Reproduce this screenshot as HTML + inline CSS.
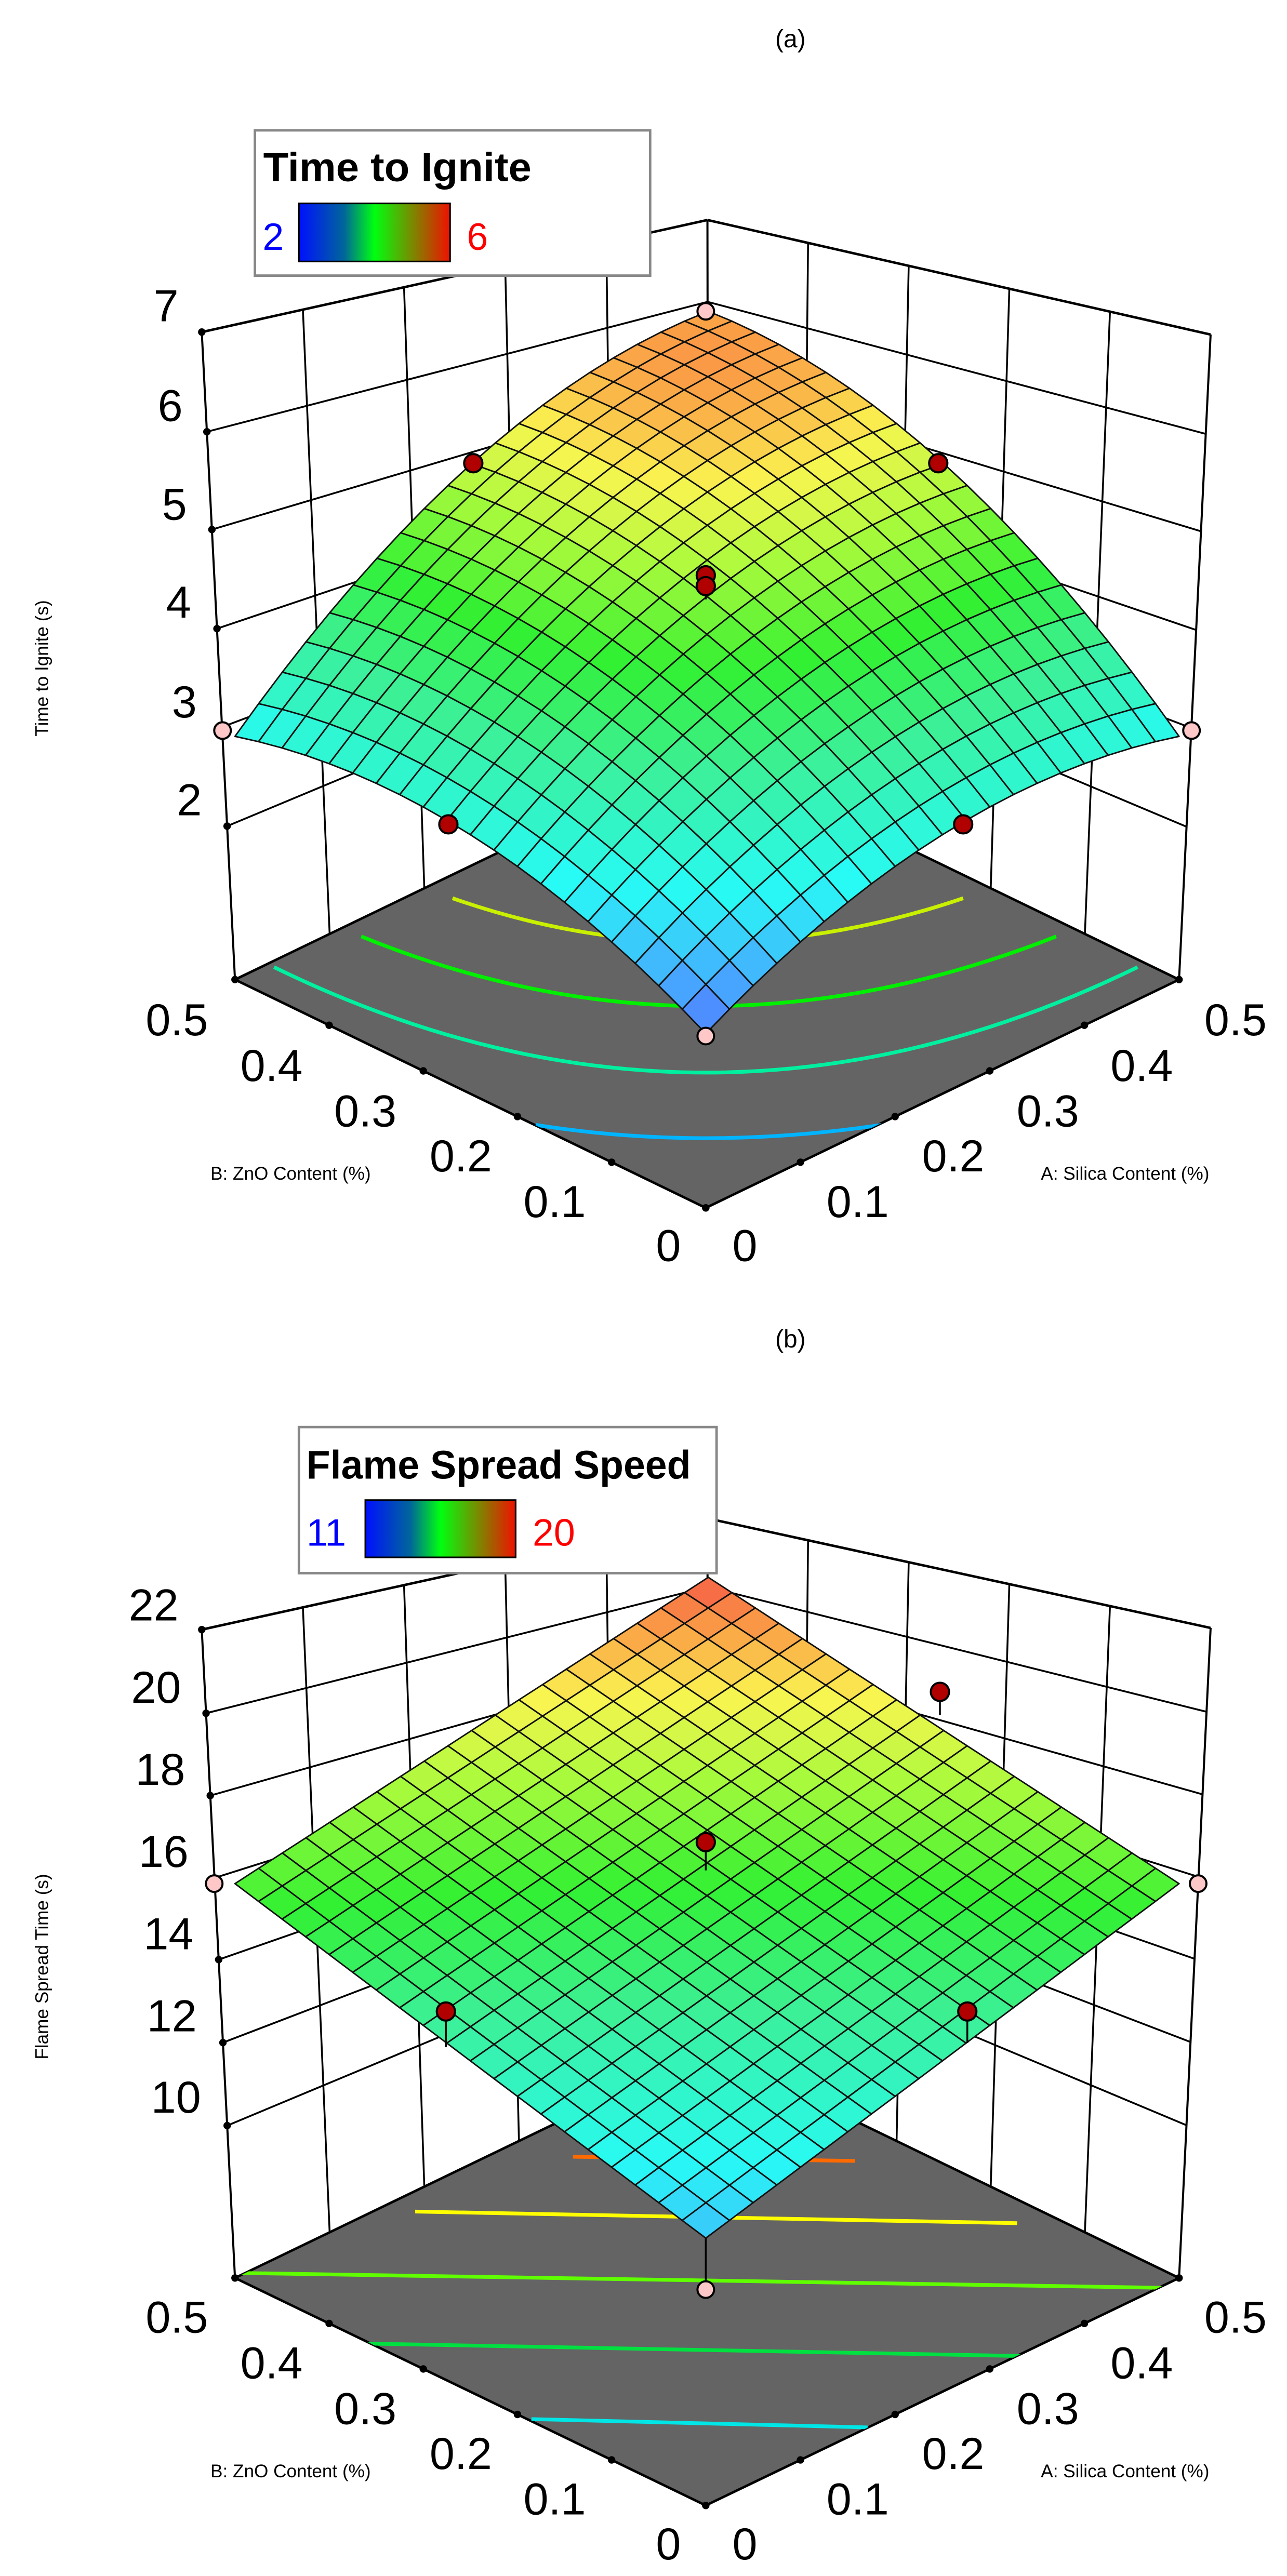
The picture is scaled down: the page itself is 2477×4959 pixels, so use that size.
<!DOCTYPE html>
<html><head><meta charset="utf-8">
<style>
html,body{margin:0;padding:0;background:#fff;}
svg{display:block;}
text{font-family:"Liberation Sans",sans-serif;}
.z{font-size:54px;text-anchor:middle;}
.t{font-size:22px;text-anchor:middle;}
</style></head>
<body>
<svg id="s" width="2477" height="4959" viewBox="0 0 1550 3103" preserveAspectRatio="none" xmlns="http://www.w3.org/2000/svg">
<defs>
<linearGradient id="lg" x1="0" x2="1" y1="0" y2="0">
<stop offset="0" stop-color="#0010ff"/><stop offset="0.3" stop-color="#00669a"/>
<stop offset="0.5" stop-color="#00ff10"/><stop offset="0.75" stop-color="#7a8a00"/>
<stop offset="1" stop-color="#f01000"/></linearGradient>
<clipPath id="c1"><polygon points="283,1180 850,1455 1420,1180 853,905"/></clipPath>
<clipPath id="c2"><polygon points="283,1193 850,1467 1420,1193 853,918"/></clipPath>
</defs>
<g id="g1"></g>
<g id="g2" transform="translate(0,1551)"></g>
<g>
<text x="952" y="57" font-size="30" text-anchor="middle">(a)</text>
<text transform="translate(58,805) rotate(-90)" class="t">Time to Ignite (s)</text>
<text x="200" y="387" class="z">7</text><text x="205" y="507" class="z">6</text>
<text x="210" y="626" class="z">5</text><text x="215" y="744" class="z">4</text>
<text x="222" y="864" class="z">3</text><text x="228" y="982" class="z">2</text>
<text x="213" y="1247" class="z">0.5</text><text x="327" y="1302" class="z">0.4</text>
<text x="440" y="1357" class="z">0.3</text><text x="555" y="1411" class="z">0.2</text>
<text x="668" y="1466" class="z">0.1</text><text x="805" y="1519" class="z">0</text>
<text x="897" y="1519" class="z">0</text><text x="1033" y="1466" class="z">0.1</text>
<text x="1148" y="1411" class="z">0.2</text><text x="1262" y="1357" class="z">0.3</text>
<text x="1375" y="1302" class="z">0.4</text><text x="1488" y="1247" class="z">0.5</text>
<text x="350" y="1421" class="t">B: ZnO Content (%)</text>
<text x="1355" y="1421" class="t">A: Silica Content (%)</text>
<rect x="307" y="157" width="476" height="175" fill="#fff" stroke="#888" stroke-width="3"/>
<text x="317" y="218" font-size="49" font-weight="bold" textLength="323" lengthAdjust="spacingAndGlyphs">Time to Ignite</text>
<rect x="360" y="245" width="182" height="70" fill="url(#lg)" stroke="#000" stroke-width="2"/>
<text x="329" y="301" font-size="46" fill="#0000ff" text-anchor="middle">2</text>
<text x="575" y="301" font-size="46" fill="#ff0000" text-anchor="middle">6</text>
</g>
<g transform="translate(0,1551)">
<text x="952" y="72" font-size="30" text-anchor="middle">(b)</text>
<text transform="translate(58,818) rotate(-90)" class="t">Flame Spread Time (s)</text>
<text x="185" y="401" class="z">22</text><text x="188" y="500" class="z">20</text>
<text x="193" y="599" class="z">18</text><text x="197" y="698" class="z">16</text>
<text x="203" y="797" class="z">14</text><text x="207" y="896" class="z">12</text>
<text x="212" y="994" class="z">10</text>
<text x="213" y="1259" class="z">0.5</text><text x="327" y="1314" class="z">0.4</text>
<text x="440" y="1369" class="z">0.3</text><text x="555" y="1423" class="z">0.2</text>
<text x="668" y="1478" class="z">0.1</text><text x="805" y="1532" class="z">0</text>
<text x="897" y="1532" class="z">0</text><text x="1033" y="1478" class="z">0.1</text>
<text x="1148" y="1423" class="z">0.2</text><text x="1262" y="1369" class="z">0.3</text>
<text x="1375" y="1314" class="z">0.4</text><text x="1488" y="1259" class="z">0.5</text>
<text x="350" y="1433" class="t">B: ZnO Content (%)</text>
<text x="1355" y="1433" class="t">A: Silica Content (%)</text>
<rect x="360" y="168" width="503" height="176" fill="#fff" stroke="#888" stroke-width="3"/>
<text x="369" y="230" font-size="48" font-weight="bold" textLength="463" lengthAdjust="spacingAndGlyphs">Flame Spread Speed</text>
<rect x="440" y="256" width="181" height="69" fill="url(#lg)" stroke="#000" stroke-width="2"/>
<text x="393" y="311" font-size="46" fill="#0000ff" text-anchor="middle">11</text>
<text x="667" y="311" font-size="46" fill="#ff0000" text-anchor="middle">20</text>
</g>
</svg>
<script>
var NS="http://www.w3.org/2000/svg";
function el(g,t,a){var e=document.createElementNS(NS,t);for(var k in a)e.setAttribute(k,a[k]);g.appendChild(e);return e;}
function lerp(a,b,f){return [a[0]+(b[0]-a[0])*f,a[1]+(b[1]-a[1])*f];}
var stops=[[0,[90,90,255]],[0.15,[70,170,255]],[0.3,[40,250,245]],[0.5,[60,240,150]],[0.65,[50,240,50]],[0.78,[170,250,60]],[0.87,[250,245,80]],[0.94,[250,160,70]],[1,[245,80,70]]];
function col(t){t=Math.max(0,Math.min(1,t));for(var i=1;i<stops.length;i++){if(t<=stops[i][0]){var a=stops[i-1],b=stops[i],f=(t-a[0])/(b[0]-a[0]);return 'rgb('+[0,1,2].map(function(k){return Math.round(a[1][k]+(b[1][k]-a[1][k])*f)}).join(',')+')';}}return 'rgb(245,80,70)';}
function plot(g,P){
 var O=P.O,L=P.L,R=P.R,B=P.B;
 [[P.tL,L],[P.tR,R]].forEach(function(s){
  var t=s[0],b=s[1];
  P.lev.forEach(function(f){var a=lerp(t,b,f),c=lerp(P.tB,B,f);el(g,'line',{x1:a[0],y1:a[1],x2:c[0],y2:c[1],stroke:'#000','stroke-width':f==0?3:2.2});});
  [0.2,0.4,0.6,0.8].forEach(function(k){var a=lerp(t,P.tB,k),c=lerp(b,B,k);el(g,'line',{x1:a[0],y1:a[1],x2:c[0],y2:c[1],stroke:'#000','stroke-width':2.2});});
  el(g,'line',{x1:t[0],y1:t[1],x2:b[0],y2:b[1],stroke:'#000','stroke-width':2.5});
 });
 el(g,'line',{x1:P.tB[0],y1:P.tB[1],x2:B[0],y2:B[1],stroke:'#000','stroke-width':2.5});
 P.lev.forEach(function(f){var a=lerp(P.tL,L,f);el(g,'circle',{cx:a[0],cy:a[1],r:4.5,fill:'#000'});});
 el(g,'polygon',{points:[L,O,R,B].map(function(p){return p.join(',')}).join(' '),fill:'#646464',stroke:'#000','stroke-width':3});
 var cg=el(g,'g',{'clip-path':'url(#'+P.clip+')'});
 P.cont.forEach(function(c){el(cg,'path',{d:c[1],stroke:c[0],'stroke-width':4.5,fill:'none'});});
 for(var i=0;i<=5;i++){var a=lerp(O,L,i/5),b=lerp(O,R,i/5);el(g,'circle',{cx:a[0],cy:a[1],r:4.5,fill:'#000'});el(g,'circle',{cx:b[0],cy:b[1],r:4.5,fill:'#000'});}
 var N=20,quads=[];
 function S(u,v){var x=O[0]+u*(R[0]-O[0])+v*(L[0]-O[0]),y=O[1]+u*(R[1]-O[1])+v*(L[1]-O[1]);return [x,y-P.h(u,v)];}
 for(var i=0;i<N;i++)for(var j=0;j<N;j++)quads.push([i,j]);
 quads.sort(function(a,b){return (b[0]+b[1])-(a[0]+a[1]);});
 var sg=el(g,'g',{});
 quads.forEach(function(q){var u0=q[0]/N,v0=q[1]/N,u1=(q[0]+1)/N,v1=(q[1]+1)/N;
  var pts=[S(u0,v0),S(u1,v0),S(u1,v1),S(u0,v1)];
  var hc=P.h((u0+u1)/2,(v0+v1)/2);
  el(sg,'polygon',{points:pts.map(function(p){return p[0].toFixed(1)+','+p[1].toFixed(1)}).join(' '),fill:col((hc-P.h0)/(P.h1-P.h0)),stroke:'#111','stroke-width':1.8,'stroke-linejoin':'round'});
 });
 P.stems.forEach(function(s){el(g,'line',{x1:s[0],y1:s[1],x2:s[0],y2:s[2],stroke:'#000','stroke-width':2.2});});
 P.dots.forEach(function(d){el(g,'circle',{cx:d[0],cy:d[1],r:d[2]?10:11,fill:d[2]?'#ffc8c8':'#b00000',stroke:'#000','stroke-width':2.5});});
}
function qb(x1,y1,xm,ym,x2,y2){var cy=2*ym-(y1+y2)/2,cx=2*xm-(x1+x2)/2;return 'M'+x1+','+y1+' Q'+cx+','+cy+' '+x2+','+y2;}
plot(document.getElementById('g1'),{
 O:[850,1455],L:[283,1180],R:[1420,1180],B:[853,905],
 tL:[243,400],tR:[1458,403],tB:[852,265],
 lev:[0,0.154,0.305,0.458,0.61,0.763],clip:'c1',
 h:function(u,v){return 210+325*u+325*v+202*u*v-242*(u*u+v*v)-48*u*u*v*v;},h0:190,h1:555,
 cont:[['#00b4ff',qb(645,1355,850,1371,1062,1355)],['#00f0a0',qb(330,1165,850,1292,1370,1165)],['#00f000',qb(435,1128,850,1212,1272,1128)],['#c8f000',qb(545,1082,850,1135,1160,1082)]],
 stems:[[850,706,722]],
 dots:[[850,375,1],[268,880,1],[1435,880,1],[850,1248,1],[570,558],[1130,558],[540,993],[1160,993],[850,693],[850,706]]
});
plot(document.getElementById('g2'),{
 O:[850,1467],L:[283,1193],R:[1420,1193],B:[853,918],
 tL:[243,412],tR:[1458,410],tB:[852,278],
 lev:[0,0.129,0.256,0.383,0.509,0.637,0.765],clip:'c2',
 h:function(u,v){return 322+153*u+153*v-58*u*v;},h0:262,h1:572,
 cont:[['#00e6e6','M640,1363 L1045,1373'],['#00e040','M440,1272 L1230,1287'],['#60ff00','M290,1187 L1410,1205'],['#ffff00','M500,1113 L1225,1127'],['#ff6a00','M690,1047 L1030,1052']],
 stems:[[1132,487,515],[850,668,702],[537,872,915],[1165,872,910],[850,1145,1197]],
 dots:[[258,718,1],[1443,718,1],[850,1207,1],[1132,487],[850,668],[537,872],[1165,872]]
});
</script>
</body></html>
